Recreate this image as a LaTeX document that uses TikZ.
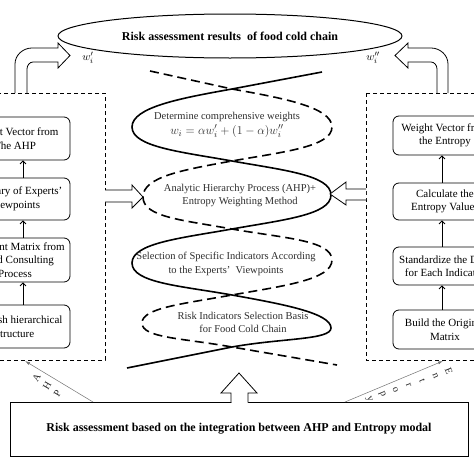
\documentclass[tikz,border=0pt]{standalone}
\usepackage{fontspec}
\setmainfont{Liberation Serif}
\usetikzlibrary{shapes.geometric,arrows.meta}

\begin{document}
\begin{tikzpicture}[x=1pt,y=-1pt,
    stepbox/.style={draw,rounded corners=6pt,line width=0.8pt,align=center,inner sep=1pt,font=\fontsize{11}{13.5}\selectfont},
    frame/.style={draw,line width=1pt,dash pattern=on 4pt off 3pt},
    helix/.style={line width=1.6pt},
    hollow/.style={draw,fill=white,line width=0.8pt,line join=miter},
    loop/.style={align=center,text=black!82,font=\fontsize{10.5}{13.5}\selectfont},
    flow/.style={-{Straight Barb[length=3pt,width=6pt]},line width=0.8pt},
    side/.style={draw=black!55,line width=0.5pt,-{Latex[length=5pt,width=3pt]}},
    letter/.style={inner sep=0pt,text=black!85,font=\fontsize{10}{10}\selectfont}]
    \useasboundingbox (0,0) rectangle (474,474);
    \fill[white] (0,0) rectangle (474,474);
    \clip (0,0) rectangle (474,474);

    \node[draw,ellipse,line width=1pt,minimum width=344pt,minimum height=44pt,font=\bfseries\fontsize{12}{14}\selectfont] (result) at (230,36) {Risk assessment results\ \ of food cold chain};
    \node[font=\fontsize{11}{11}\selectfont] (wleft) at (88,58) {$w_i'$};
    \node[font=\fontsize{11}{11}\selectfont] (wright) at (373,58) {$w_i''$};

    \draw[hollow] (15,93) -- (15,64) .. controls (15,55) and (23,48) .. (32,48) -- (58,48) -- (58,43) -- (70,55.5) -- (58,68) -- (58,62) -- (33,62) .. controls (29.7,62) and (27,65.3) .. (27,69) -- (27,93);
    \draw[hollow] (448,93) -- (448,64) .. controls (448,55) and (440,48) .. (431,48) -- (408,48) -- (408,43) -- (395,55.5) -- (408,68) -- (408,62) -- (431,62) .. controls (434.3,62) and (437,65.3) .. (437,69) -- (437,93);

    \draw[frame] (-20,93) rectangle (105,360);
    \draw[frame] (366,93) rectangle (500,360);

    \node[stepbox,minimum width=110pt,minimum height=43pt] (ahp1) at (15,138.5) {Weight Vector from\\The AHP};
    \node[stepbox,minimum width=110pt,minimum height=42pt] (ahp2) at (15,199) {Summary of Experts'\\Viewpoints};
    \node[stepbox,minimum width=110pt,minimum height=44pt] (ahp3) at (15,260) {Judgment Matrix from\\Based Consulting\\Process};
    \node[stepbox,minimum width=110pt,minimum height=43pt] (ahp4) at (15,326.5) {Establish hierarchical\\structure};
    \coordinate (ahpx) at (23,0);
    \draw[flow] (ahp4.north -| ahpx) -- (ahp3.south -| ahpx);
    \draw[flow] (ahp3.north -| ahpx) -- (ahp2.south -| ahpx);
    \draw[flow] (ahp2.north -| ahpx) -- (ahp1.south -| ahpx);

    \node[stepbox,minimum width=104pt,minimum height=39pt] (ent1) at (445,135.5) {Weight Vector from\\the Entropy};
    \node[stepbox,minimum width=104pt,minimum height=37pt] (ent2) at (445,201.5) {Calculate the\\Entropy Values};
    \node[stepbox,minimum width=104pt,minimum height=38pt] (ent3) at (445,266) {Standardize the Data\\for Each Indicator};
    \node[stepbox,minimum width=104pt,minimum height=39pt] (ent4) at (445,329.5) {Build the Original\\Matrix};
    \coordinate (entx) at (442,0);
    \draw[flow] (ent4.north -| entx) -- (ent3.south -| entx);
    \draw[flow] (ent3.north -| entx) -- (ent2.south -| entx);
    \draw[flow] (ent2.north -| entx) -- (ent1.south -| entx);

    \draw[helix] (322,72) -- (232,89)
        .. controls (182,98) and (132,107) .. (132,127)
        .. controls (132,147) and (182,152) .. (232,161)
        .. controls (282,170) and (331,175) .. (331,195)
        .. controls (331,215) and (282,220) .. (232,229)
        .. controls (182,238) and (132,243) .. (132,263)
        .. controls (132,283) and (182,286) .. (232,295)
        .. controls (282,304) and (331,313) .. (331,328)
        .. controls (331,340) and (282,338) .. (232,347)
        -- (127,368);
    \draw[helix,dash pattern=on 9pt off 5pt] (150,71) -- (232,89)
        .. controls (282,98) and (332,107) .. (332,127)
        .. controls (332,147) and (282,152) .. (232,161)
        .. controls (182,170) and (143,177) .. (143,197)
        .. controls (143,217) and (182,220) .. (232,229)
        .. controls (282,238) and (332,240) .. (332,260)
        .. controls (332,280) and (282,286) .. (232,295)
        .. controls (182,304) and (142,308) .. (142,323)
        .. controls (142,338) and (182,338) .. (232,347)
        -- (337,365);

    \node[loop] (weights) at (227,125) {Determine comprehensive weights\\[1pt]{\fontsize{13}{13}\selectfont$w_i=\alpha w_i'+(1-\alpha)w_i''$}};
    \node[loop] (method) at (240,195.5) {Analytic Hierarchy Process (AHP)+\\Entropy Weighting Method};
    \node[loop] (select) at (226,264) {Selection of Specific Indicators According\\to the Experts'\ \ Viewpoints};
    \node[loop] (basis) at (243,322.5) {Risk Indicators Selection Basis\\for Food Cold Chain};

    \draw[hollow] (105,190) -- (132,190) -- (132,185) -- (143,197) -- (132,208) -- (132,202) -- (105,202);
    \draw[hollow] (366,189) -- (346,189) -- (346,182) -- (330,194) -- (346,205) -- (346,200) -- (366,200);

    \node[draw,line width=1pt,minimum width=458pt,minimum height=54pt,font=\bfseries\fontsize{12}{14}\selectfont] (base) at (239,429) {Risk assessment based on the integration between AHP and Entropy modal};
    \fill[white] (231.5,399) rectangle (247.5,404);
    \draw[hollow] (231,402.5) -- (231,393) -- (221,393) -- (239,373) -- (257,393) -- (248,393) -- (248,402.5);

    \coordinate (ahpfoot) at (93,402);
    \coordinate (ahptip) at (25,361);
    \draw[side] (ahpfoot) -- (ahptip);
    \foreach \ch [count=\i] in {A,H,P}
        \node[letter,rotate=60] (ahpch\i) at (26+10.5*\i,370.5+7.5*\i) {\ch};
    \coordinate (entfoot) at (345,402);
    \coordinate (enttip) at (443,361);
    \draw[side] (entfoot) -- (enttip);
    \foreach \ch [count=\i] in {E,n,t,r,o,p,y}
        \node[letter,rotate=-68] (entch\i) at (462-13.3*\i,366+4.8*\i) {\ch};
\end{tikzpicture}
\end{document}
